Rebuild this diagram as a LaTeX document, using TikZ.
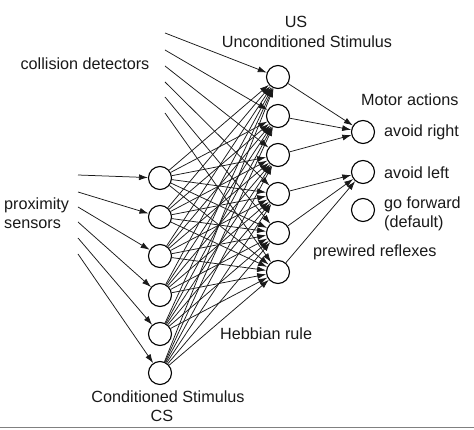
\documentclass[tikz,border=0pt]{standalone}
\usepackage{fontspec}
\setmainfont{Liberation Sans}
\usetikzlibrary{arrows.meta}
\begin{document}
\begin{tikzpicture}[x=1pt,y=-1pt,
  neuron/.style={circle,draw,line width=1.1pt,minimum size=23pt,inner sep=0pt},
  conn/.style={-{Latex[length=9pt,width=6pt]},line width=0.75pt,draw=black!90},
  lbl/.style={font=\fontsize{16.2}{18.5}\selectfont,inner sep=0pt,text=black!90}]
\useasboundingbox (0,0) rectangle (474,430);
\draw[gray,line width=1pt] (0,427.5) -- (474,427.5);
% nodes
\foreach \i/\y in {1/178,2/217,3/256,4/295,5/334,6/373}{
  \node[neuron] (cs\i) at (160,\y) {};
}
\foreach \i/\y in {1/77,2/116,3/155,4/194,5/233,6/272}{
  \node[neuron] (us\i) at (278,\y) {};
}
\node[neuron] (mr) at (363,132) {};
\node[neuron] (ml) at (363,172) {};
\node[neuron] (mf) at (363,210) {};
% input coordinates
\foreach \i/\y in {1/33,2/50,3/66,4/82,5/97,6/113}{
  \coordinate (cd\i) at (165,\y);
}
\foreach \i/\y in {1/175,2/192,3/207,4/222,5/238,6/254}{
  \coordinate (ps\i) at (78,\y);
}
% connections
\foreach \i in {1,...,6}{
  \draw[conn] (cd\i) -- (us\i);
  \draw[conn] (ps\i) -- (cs\i);
  \foreach \j in {1,...,6}{
    \draw[conn] (cs\i) -- (us\j);
  }
}
\foreach \i in {1,2,3}{\draw[conn] (us\i) -- (mr);}
\foreach \i in {4,5,6}{\draw[conn] (us\i) -- (ml);}
% labels
\node[lbl] (tus) at (296,22) {US};
\node[lbl] (tusl) at (307,42) {Unconditioned Stimulus};
\node[lbl] (tcd) at (85,64) {collision detectors};
\node[lbl,align=left,anchor=west] (tps) at (4,213) {proximity\\sensors};
\node[lbl,anchor=west] (tma) at (361,100) {Motor actions};
\node[lbl,anchor=west] (tar) at (384,132) {avoid right};
\node[lbl,anchor=west] (tal) at (384,173) {avoid left};
\node[lbl,anchor=west,align=left] (tgf) at (384,214) {go forward\\(default)};
\node[lbl,anchor=west] (tpr) at (313,252) {prewired reflexes};
\node[lbl,anchor=west] (thr) at (220,334) {Hebbian rule};
\node[lbl] (tcs) at (168,397) {Conditioned Stimulus};
\node[lbl] (tcs2) at (162,416) {CS};
\end{tikzpicture}
\end{document}
